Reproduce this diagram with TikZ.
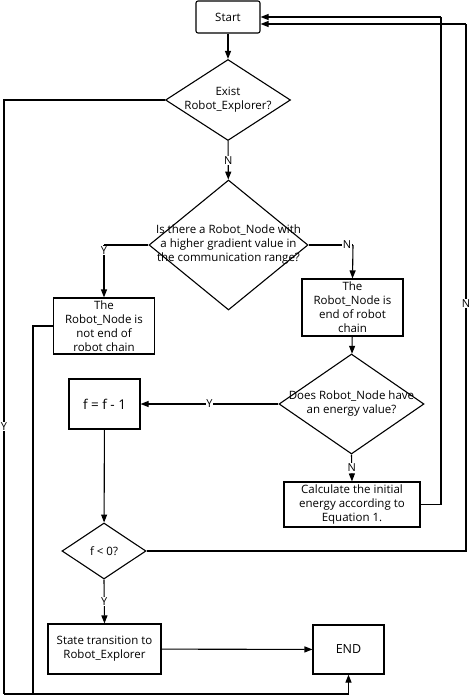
\documentclass[tikz,border=0pt]{standalone}
\usepackage{fontspec}
\setmainfont{Open Sans}
\usetikzlibrary{arrows.meta,shapes.geometric}
\begin{document}
\begin{tikzpicture}[x=1pt,y=-1pt,
  every node/.style={font=\fontsize{11.5}{14}\selectfont,text=black},
  box/.style={draw,line width=1.1pt,rectangle,inner sep=0pt,align=center},
  dia/.style={draw,line width=1.1pt,diamond,inner sep=0pt},
  dtext/.style={align=center,inner sep=0pt},
  lbl/.style={fill=white,inner sep=0.8pt,font=\fontsize{11}{13}\selectfont},
  conn/.style={line width=1.1pt},
  arr/.style={line width=1.1pt,-{Triangle[length=8pt,width=6pt]}}]
\useasboundingbox (0,0) rectangle (474,698);
% nodes
\node[box,rounded corners=2pt,minimum width=64pt,minimum height=32pt] (start) at (228,17) {Start};
\node[dia,minimum width=125pt,minimum height=81pt] (d1) at (228,100) {};
\node[dtext] (d1t) at (228,100) {Exist\\Robot\_Explorer?};
\node[dia,minimum width=159pt,minimum height=130pt] (d2) at (228.5,245) {};
\node[dtext] (d2t) at (228.5,245) {Is there a Robot\_Node with\\a higher gradient value in\\the communication range?};
\node[box,minimum width=101pt,minimum height=56pt] (ne) at (104,326) {The\\Robot\_Node is\\not end of\\robot chain};
\node[box,minimum width=101pt,minimum height=57pt] (e) at (352.5,307.5) {The\\Robot\_Node is\\end of robot\\chain};
\node[dia,minimum width=145pt,minimum height=100pt] (d3) at (351.5,404) {};
\node[dtext] (d3t) at (351.5,404) {Does Robot\_Node have\\an energy value?};
\node[box,minimum width=71pt,minimum height=50pt,font=\fontsize{13.5}{16}\selectfont] (f1) at (104.5,404) {f = f - 1};
\node[box,minimum width=136pt,minimum height=45pt] (calc) at (352,504.5) {Calculate the initial\\energy according to\\Equation 1.};
\node[dia,minimum width=84pt,minimum height=56pt] (d4) at (104,551) {};
\node[dtext] (d4t) at (104,551) {f < 0?};
\node[box,minimum width=113pt,minimum height=50pt] (st) at (104.5,649) {State transition to\\Robot\_Explorer};
\node[box,minimum width=71pt,minimum height=49pt,font=\fontsize{12.5}{15}\selectfont] (en) at (348.5,649.5) {END};
% coordinates
\coordinate (yl) at (104,245);
\coordinate (nr) at (353,245);
\coordinate (cr) at (441,504.5);
\coordinate (ct) at (441,17);
\coordinate (fr) at (466,551);
\coordinate (ft) at (466,24);
\coordinate (bl) at (4,694);
\coordinate (bm) at (33,694);
\coordinate (br) at (348.5,694);
% connectors
\draw[arr] (start) -- (d1);
\draw[arr] (d1) -- node[lbl,pos=0.5] {N} (d2);
\draw[conn] (d2.west) -- (yl);
\draw[arr] (yl) -- node[lbl,pos=0.1] {Y} (ne.north);
\draw[conn] (d2.east) -- (nr);
\node[lbl] (nlab) at (347,245) {N};
\draw[arr] (nr) -- (e.north);
\draw[arr] (e) -- (d3);
\draw[arr] (d3.west) -- node[lbl,pos=0.5] {Y} (f1.east);
\draw[arr] (d3.south) -- node[lbl,pos=0.5] {N} (calc.north);
\draw[conn] (calc.east) -- (cr) -- (ct);
\draw[arr] (ct) -- (start.east);
\draw[arr] (f1) -- (d4);
\draw[conn] (d4.east) -- (fr) -- node[lbl,pos=0.47] {N} (ft);
\draw[arr] (ft) -- ([yshift=-7pt]start.east);
\draw[arr] (d4.south) -- node[lbl,pos=0.5] {Y} (st.north);
\draw[arr] (st) -- (en);
\draw[conn] (d1.west) -| node[lbl,pos=0.775] {Y} (bl);
\draw[conn] (ne.west) -| (bm);
\draw[conn] (bl) -- (br);
\draw[arr] (br) -- (en.south);
\end{tikzpicture}
\end{document}
